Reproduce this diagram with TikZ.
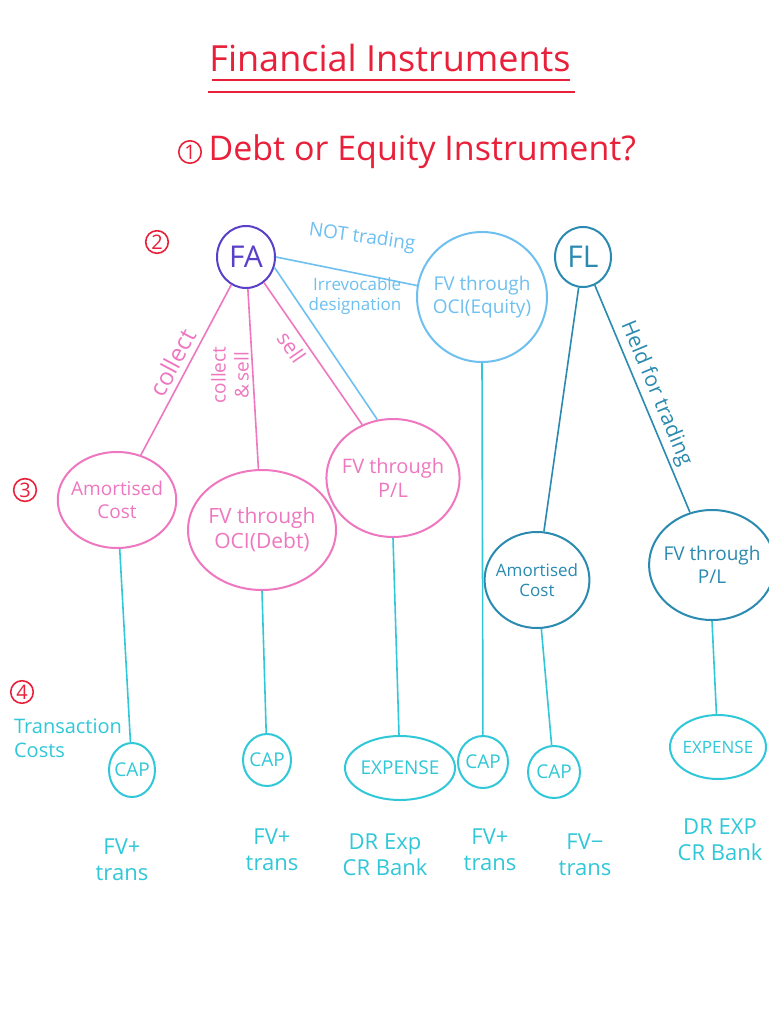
\documentclass[tikz,border=0pt]{standalone}
\usepackage{fontspec}
\setmainfont{Open Sans}
\usetikzlibrary{shapes.geometric}
\definecolor{cred}{HTML}{E8203A}
\definecolor{cpur}{HTML}{5A3FC8}
\definecolor{cpink}{HTML}{EE77C0}
\definecolor{clb}{HTML}{6EC0F0}
\definecolor{cteal}{HTML}{2A8AB0}
\definecolor{ccy}{HTML}{30C8D8}
\newcommand{\fs}[1]{\fontsize{#1pt}{\dimexpr #1pt*6/5\relax}\selectfont}
\begin{document}
\begin{tikzpicture}[x=1pt,y=-1pt,
  el/.style={ellipse,draw,line width=2pt,inner sep=-4pt,align=center},
  ln/.style={line width=1.6pt},
  num/.style={circle,draw=cred,text=cred,line width=1.6pt,inner sep=1.5pt,font=\fs{20}},
  bt/.style={text=ccy,font=\fs{22},align=center}]
\useasboundingbox[fill=white] (0,0) rectangle (768,1024);
\node[text=cred,font=\fs{36}] (title) at (390,58) {Financial Instruments};
\draw[cred,line width=2pt] (212,80) -- (570,80) (208,92) -- (575,92);
\node[num] (n1) at (190,152) {1};
\node[text=cred,font=\fs{34},anchor=west] (q1) at (205,152) {Debt or Equity Instrument?};
\node[num] (n2) at (157,242) {2};
\node[num] (n3) at (25,490) {3};
\node[num] (n4) at (22,692) {4};
% top
\node[el,draw=cpur,text=cpur,minimum width=58pt,minimum height=62pt,font=\fs{30}] (fa) at (246,257) {FA};
\node[el,draw=cteal,text=cteal,minimum width=56pt,minimum height=60pt,font=\fs{30}] (fl) at (583,257) {FL};
\node[el,draw=clb,text=clb,minimum width=130pt,minimum height=130pt,font=\fs{19}] (oci) at (482,297) {FV through\\OCI(Equity)};
% level 3
\node[el,draw=cpink,text=cpink,minimum width=112pt,minimum height=96pt,font=\fs{19}] (ac1) at (117,500) {Amortised\\Cost};
\node[el,draw=cpink,text=cpink,minimum width=148pt,minimum height=120pt,font=\fs{21}] (ocid) at (262,530) {FV through\\OCI(Debt)};
\node[el,draw=cpink,text=cpink,minimum width=126pt,minimum height=118pt,font=\fs{20}] (pl1) at (393,478) {FV through\\P/L};
\node[el,draw=cteal,text=cteal,minimum width=96pt,minimum height=96pt,font=\fs{17}] (ac2) at (537,580) {Amortised\\Cost};
\node[el,draw=cteal,text=cteal,minimum width=116pt,minimum height=110pt,font=\fs{19}] (pl2) at (712,565) {FV through\\P/L};
% connectors
\draw[ln,cpink] (fa) -- (ac1) node[midway,sloped,above,yshift=2pt,font=\fs{24}] {collect};
\draw[ln,cpink] (fa) -- (ocid);
\node[text=cpink,rotate=90,font=\fs{19},align=center] (cs) at (230,375) {collect\\\&\,sell};
\draw[ln,cpink] (fa.-55) -- (pl1.120) node[pos=0.4,sloped,below,yshift=-2pt,font=\fs{21}] {sell};
\draw[ln,clb] (fa.-20) -- (pl1.105);
\draw[ln,clb] (fa.east) -- (oci.170);
\node[text=clb,font=\fs{19},rotate=-8] (nt) at (362,238) {NOT trading};
\node[text=clb,font=\fs{17},align=right] (ir) at (355,296) {Irrevocable\\designation};
\draw[ln,cteal] (fl) -- (ac2);
\draw[ln,cteal] (fl) -- (pl2) node[midway,sloped,above,font=\fs{21}] {Held for trading};
% level 4
\node[text=ccy,font=\fs{20},align=left] (tc) at (68,738) {Transaction\\Costs};
\node[el,draw=ccy,text=ccy,minimum width=46pt,minimum height=54pt,font=\fs{19}] (c1) at (132,770) {CAP};
\node[el,draw=ccy,text=ccy,minimum width=48pt,minimum height=52pt,font=\fs{19}] (c2) at (267,760) {CAP};
\node[el,draw=ccy,text=ccy,minimum width=110pt,minimum height=64pt,font=\fs{19}] (e1) at (400,768) {EXPENSE};
\node[el,draw=ccy,text=ccy,minimum width=50pt,minimum height=52pt,font=\fs{19}] (c3) at (483,762) {CAP};
\node[el,draw=ccy,text=ccy,minimum width=52pt,minimum height=52pt,font=\fs{19}] (c4) at (554,772) {CAP};
\node[el,draw=ccy,text=ccy,minimum width=96pt,minimum height=64pt,font=\fs{17}] (e2) at (718,747) {EXPENSE};
\draw[ln,ccy] (ac1) -- (c1);
\draw[ln,ccy] (ocid.south) -- (c2);
\draw[ln,ccy] (pl1.south) -- (e1);
\draw[ln,ccy] (oci.south) -- (c3);
\draw[ln,ccy] (ac2) -- (c4);
\draw[ln,ccy] (pl2.south) -- (e2);
\node[bt] (t1) at (122,860) {FV+\\trans};
\node[bt] (t2) at (272,850) {FV+\\trans};
\node[bt] (t3) at (385,855) {DR Exp\\CR Bank};
\node[bt] (t4) at (490,850) {FV+\\trans};
\node[bt] (t5) at (585,855) {FV−\\trans};
\node[bt] (t6) at (720,840) {DR EXP\\CR Bank};
\end{tikzpicture}
\end{document}
